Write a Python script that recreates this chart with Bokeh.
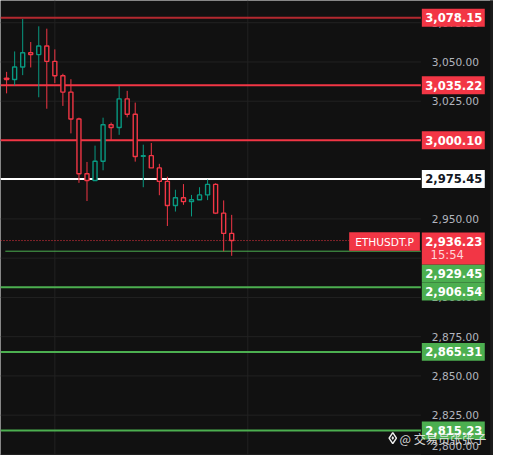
from bokeh.plotting import figure
from bokeh.models import Range1d, ColumnDataSource
from bokeh.core.properties import value
from bokeh.embed import file_html
from bokeh.resources import INLINE

# ---------------- data ----------------
opens  = [3039.6, 3038.8, 3046.8, 3055.9, 3054.7, 3060.2, 3050.4, 3041.2, 3030.8, 3013.7,
          2978.8, 2974.5, 2986.7, 3010.0, 3008.2, 3026.5, 3016.7, 2989.9, 2990.3, 2982.5,
          2973.9, 2958.6, 2963.5, 2961.0, 2962.2, 2965.3, 2972.0, 2953.7, 2940.8]
highs  = [3043.7, 3056.7, 3077.4, 3062.7, 3072.7, 3071.2, 3058.0, 3042.5, 3039.0, 3014.5,
          2986.3, 2996.7, 3014.5, 3011.4, 3034.7, 3031.6, 3024.1, 2997.3, 2998.4, 2985.1,
          2976.9, 2968.6, 2972.2, 2965.3, 2970.2, 2975.1, 2972.7, 2961.8, 2952.6]
lows   = [3030.0, 3035.1, 3041.6, 3046.5, 3027.5, 3020.2, 3036.5, 3022.0, 3004.5, 2973.0,
          2961.4, 2974.3, 2981.0, 3000.4, 3003.6, 3014.7, 2986.5, 2970.2, 2982.5, 2965.1,
          2945.5, 2954.7, 2959.0, 2951.6, 2962.2, 2962.0, 2953.1, 2929.4, 2926.5]
closes = [3038.8, 3046.8, 3055.9, 3054.7, 3060.2, 3050.4, 3041.2, 3030.8, 3013.7, 2978.8,
          2974.5, 2986.7, 3010.0, 3008.2, 3026.5, 3016.7, 2989.8, 2990.3, 2982.5, 2973.9,
          2958.6, 2963.5, 2961.0, 2962.2, 2965.3, 2972.0, 2953.7, 2940.8, 2936.23]

symbol = "ETHUSDT.P"
last_price = 2936.23
countdown = "15:54"

level_prices = [3078.15, 3035.22, 3000.10, 2975.45, 2929.45, 2906.54, 2865.31, 2815.23]
level_kinds  = ["res", "res", "res", "pivot", "sup", "sup", "sup", "sup"]

tick_values = [2800, 2825, 2850, 2875, 2900, 2925, 2950, 2975, 3000, 3025, 3050, 3075]
grid_time_idx = [6, 30]
watermark = "@ 交易员张张子"

# ---------------- layout / style ----------------
W, H = 493, 455
RW, RH = 509, 471
sx, sy = W / RW, H / RH
X0, X1 = -0.759, 60.566
Y0, Y1 = 3089.15, 2799.3

def rx(px):
    return X0 + px / RW * (X1 - X0)

def ry(py):
    return Y0 - py / RH * (Y0 - Y1)

PX_PER_PRICE = H / (Y0 - Y1)

BG = "#111111"
GRID = "#222222"
UP = "#089981"
DOWN = "#f23645"
RED = "#f23645"
GREEN = "#4caf50"
TXT = "#b2b5be"
FONT = value("DejaVu Sans")

p = figure(width=W, height=H, output_backend="svg", toolbar_location=None,
           x_range=Range1d(X0, X1), y_range=Range1d(Y1, Y0),
           x_axis_location=None, y_axis_location=None, min_border=0,
           background_fill_color=BG, border_fill_color=BG, outline_line_color=None)
p.grid.visible = False

right_edge = rx(434)

# grid
p.segment(x0=[X0] * len(tick_values), x1=[right_edge] * len(tick_values),
          y0=tick_values, y1=tick_values, line_color=GRID, line_width=1)
p.segment(x0=grid_time_idx, x1=grid_time_idx, y0=[Y1] * 2, y1=[Y0] * 2,
          line_color=GRID, line_width=1)

# level lines
line_colors, line_widths, line_starts = [], [], []
for i, (lv, k) in enumerate(zip(level_prices, level_kinds)):
    if k == "res":
        line_colors.append("#b3282f" if i == 0 else RED)
    elif k == "pivot":
        line_colors.append("#ffffff")
    else:
        line_colors.append(GREEN)
    line_widths.append(1 if lv == 2929.45 else 2)
    line_starts.append(rx(5) if lv == 2929.45 else X0)
p.segment(x0=line_starts, x1=[right_edge] * len(level_prices),
          y0=level_prices, y1=level_prices, line_color=line_colors, line_width=line_widths)

# last price dotted line
p.segment(x0=[X0], x1=[rx(360)], y0=[last_price], y1=[last_price],
          line_color=RED, line_width=1, line_dash="1 2")

# candles
idx = list(range(len(opens)))
cols = [UP if c >= o else DOWN for o, c in zip(opens, closes)]
src = ColumnDataSource(dict(x=idx, o=opens, h=highs, l=lows, c=closes,
                            top=[max(o, c) for o, c in zip(opens, closes)],
                            bot=[min(o, c) for o, c in zip(opens, closes)],
                            col=cols))
p.segment(x0="x", x1="x", y0="l", y1="h", line_color="col", line_width=1, source=src)
p.vbar(x="x", width=0.5, top="top", bottom="bot", fill_color=BG,
       line_color="col", line_width=1.4, source=src)

# tick labels (lowest one nudged up to stay inside the frame)
min_label_y = Y1 + 9.5 / PX_PER_PRICE
tick_y = [max(v, min_label_y) for v in tick_values]
p.text(x=[rx(494)] * len(tick_values), y=tick_y,
       text=[f"{v:,.2f}" for v in tick_values],
       text_font=FONT, text_font_size=f"{11 * sy:.1f}px", text_color=TXT,
       text_align="right", text_baseline="middle")

# level label boxes
shift_px = {2929.45: 23.2, 2906.54: 4.6}
box_x = rx(467.5)
bw, bh = 65 * sx, 18.6 * sy
bys, bfill, btxt = [], [], []
for lv, k in zip(level_prices, level_kinds):
    yy = lv - shift_px.get(lv, 0.0) * sy / PX_PER_PRICE
    bys.append(yy)
    if k == "res":
        bfill.append(RED); btxt.append("#ffffff")
    elif k == "pivot":
        bfill.append("#ffffff"); btxt.append("#131722")
    else:
        bfill.append(GREEN); btxt.append("#ffffff")
p.rect(x=[box_x] * len(bys), y=bys, width=bw, height=bh,
       width_units="screen", height_units="screen", fill_color=bfill, line_color=None)
p.text(x=[rx(468)] * len(bys), y=bys, text=[f"{v:,.2f}" for v in level_prices],
       text_font=FONT, text_font_size=f"{12 * sy:.1f}px", text_font_style="bold",
       text_color=btxt, text_align="center", text_baseline="middle")

# last price box + symbol box
p.rect(x=[box_x], y=[ry(256.7)], width=bw, height=33.3 * sy,
       width_units="screen", height_units="screen", fill_color=RED, line_color=None)
p.text(x=[rx(468)], y=[ry(249)], text=[f"{last_price:,.2f}"],
       text_font=FONT, text_font_size=f"{12 * sy:.1f}px", text_font_style="bold",
       text_color="#ffffff", text_align="center", text_baseline="middle")
p.text(x=[rx(444)], y=[ry(263.5)], text=[countdown],
       text_font=FONT, text_font_size=f"{12 * sy:.1f}px",
       text_color="#ffd6da", text_align="left", text_baseline="middle")
p.rect(x=[rx(396.5)], y=[ry(249.5)], width=73 * sx, height=19 * sy,
       width_units="screen", height_units="screen", fill_color=RED, line_color=None)
p.text(x=[rx(396.5)], y=[ry(249.5)], text=[symbol],
       text_font=FONT, text_font_size=f"{11 * sy:.1f}px",
       text_color="#ffffff", text_align="center", text_baseline="middle")

# watermark
p.scatter(x=[rx(405)], y=[ry(453)], marker="diamond", size=11, fill_color=None,
          line_color="#eeeeee", line_width=1.5)
p.scatter(x=[rx(405)], y=[ry(453)], marker="diamond", size=4, fill_color="#eeeeee",
          line_color=None)
p.text(x=[rx(412)], y=[ry(453)], text=[watermark],
       text_font=value("Noto Sans CJK SC"), text_font_size=f"{12.5 * sy:.1f}px",
       text_color="#eeeeee", text_alpha=0.9, text_align="left", text_baseline="middle")

# right edge strip
p.quad(left=[rx(505.5)], right=[X1 + 1], bottom=[Y1 - 5], top=[Y0 + 5],
       fill_color="#1c1c1c", line_color=None)

open("out.html", "w").write(file_html(p, INLINE))
